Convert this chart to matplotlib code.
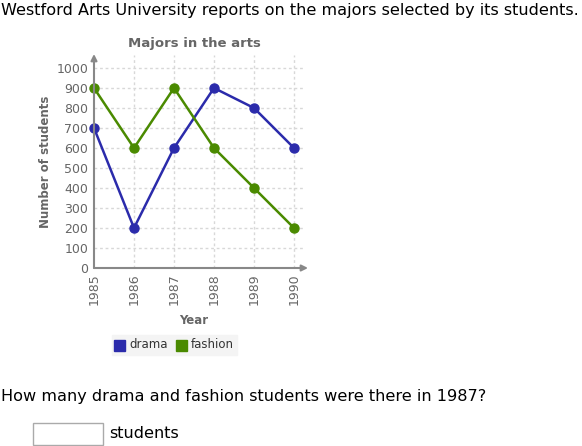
import matplotlib.pyplot as plt
from matplotlib.patches import Rectangle

years = [1985, 1986, 1987, 1988, 1989, 1990]
drama = [700, 200, 600, 900, 800, 600]
fashion = [900, 600, 900, 600, 400, 200]
y_ticks = list(range(0, 1001, 100))

drama_color = '#2b2bab'
fashion_color = '#4a8a00'
grey = '#666666'

W, H = 582, 446
fig = plt.figure(figsize=(W / 100, H / 100), dpi=100)

# axes placed in pixel coordinates
left, right, bottom, top = 94, 305, 268, 55
ax = fig.add_axes([left / W, 1 - bottom / H, (right - left) / W, (bottom - top) / H])
ax.set_xlim(1985, 1990 + 11 / 40)
ax.set_ylim(0, 1000 + 13 / 0.2)

ax.plot(years, drama, color=drama_color, lw=1.8, marker='o', ms=6.5, zorder=3, clip_on=False)
ax.plot(years, fashion, color=fashion_color, lw=1.8, marker='o', ms=6.5, zorder=3, clip_on=False)

ax.set_xticks(years)
ax.set_xticklabels([str(y) for y in years], rotation=90, color=grey, fontsize=9)
ax.set_yticks(y_ticks)
ax.set_yticklabels([str(v) for v in y_ticks], color=grey, fontsize=9)
ax.tick_params(length=0, pad=4)

for y in y_ticks[1:]:
    ax.axhline(y, color='#d8d8d8', lw=1, ls=(0, (2, 2)), zorder=1)
for x in years[1:]:
    ax.axvline(x, color='#d8d8d8', lw=1, ls=(0, (2, 2)), zorder=1)

for s in ax.spines.values():
    s.set_visible(False)
# axis lines with arrowheads
ax.annotate('', xy=(1985, 1070), xytext=(1985, 0),
            arrowprops=dict(arrowstyle='-|>', color='#888888', lw=1.5, mutation_scale=9, shrinkA=0, shrinkB=0),
            annotation_clip=False)
ax.annotate('', xy=(1990.35, 0), xytext=(1985, 0),
            arrowprops=dict(arrowstyle='-|>', color='#888888', lw=1.5, mutation_scale=9, shrinkA=0, shrinkB=0),
            annotation_clip=False)

fig.text(194 / W, 1 - 44 / H, 'Majors in the arts', ha='center', va='center',
         color=grey, fontsize=9.5, fontweight='bold')
fig.text(46 / W, 1 - 162 / H, 'Number of students', ha='center', va='center',
         rotation=90, color=grey, fontsize=8.5, fontweight='bold')
fig.text(194 / W, 1 - 320 / H, 'Year', ha='center', va='center',
         color=grey, fontsize=8.5, fontweight='bold')

# legend
fig.patches.append(Rectangle((112 / W, 1 - 355 / H), 125 / W, 20 / H,
                             transform=fig.transFigure, color='#f4f4f4', zorder=0))
fig.patches.append(Rectangle((114 / W, 1 - 351 / H), 11 / W, 11 / H,
                             transform=fig.transFigure, color=drama_color))
fig.text(129 / W, 1 - 345 / H, 'drama', va='center', color='#333333', fontsize=8.5)
fig.patches.append(Rectangle((176 / W, 1 - 351 / H), 11 / W, 11 / H,
                             transform=fig.transFigure, color=fashion_color))
fig.text(191 / W, 1 - 345 / H, 'fashion', va='center', color='#333333', fontsize=8.5)

fig.text(1 / W, 1 - 11 / H, 'Westford Arts University reports on the majors selected by its students.',
         va='center', ha='left', color='black', fontsize=11.6)
fig.text(1 / W, 1 - 397 / H, 'How many drama and fashion students were there in 1987?',
         va='center', ha='left', color='black', fontsize=11.6)
fig.patches.append(Rectangle((33 / W, 1 - 445 / H), 70 / W, 22 / H, transform=fig.transFigure,
                             facecolor='white', edgecolor='#aaaaaa', lw=1))
fig.text(109 / W, 1 - 434 / H, 'students', va='center', ha='left', color='black', fontsize=11.6)

fig.savefig('out.png', dpi=100)
